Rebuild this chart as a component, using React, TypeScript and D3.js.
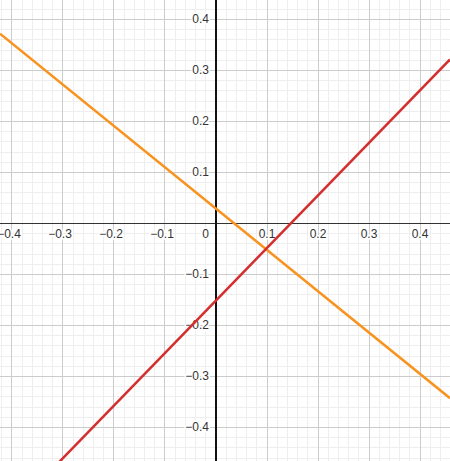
import * as d3 from "d3";
import { useEffect } from "react";

const width = 450;
const height = 461;

// visible window of the graph
const xDomain: [number, number] = [-0.4235, 0.4588];
const yDomain: [number, number] = [-0.4657, 0.4382];

const xTicks = [-0.4, -0.3, -0.2, -0.1, 0.1, 0.2, 0.3, 0.4];
const yTicks = [-0.4, -0.3, -0.2, -0.1, 0.1, 0.2, 0.3, 0.4];

// lines y = slope * x + intercept
const lineNames = ["orange", "red"];
const lineSlopes = [-0.81, 1.03];
const lineIntercepts = [0.029, -0.151];
const lineColors = ["#f8931f", "#d42f2f"];

const fmt = (v: number) => (v < 0 ? "\u2212" : "") + Math.abs(v).toFixed(1);

export default function App() {
  useEffect(() => {
    document.body.style.margin = "0";
  }, []);

  const x = d3.scaleLinear(xDomain, [0, width]);
  const y = d3.scaleLinear(yDomain, [height, 0]);

  const minor = d3.range(-30, 31).map((i) => i * 0.02);
  const major = d3.range(-5, 6).map((i) => i * 0.1);
  const inX = (v: number) => v >= xDomain[0] && v <= xDomain[1];
  const inY = (v: number) => v >= yDomain[0] && v <= yDomain[1];

  const label = {
    fontFamily: "Arial, 'Liberation Sans', sans-serif",
    fontSize: 12,
    fill: "#333",
    stroke: "#fff",
    strokeWidth: 3,
    paintOrder: "stroke" as const,
  };

  return (
    <svg width={width} height={height} style={{ display: "block", background: "#fff" }}>
      <g shapeRendering="crispEdges">
        {minor.filter(inX).map((v, i) => (
          <line key={"mx" + i} x1={x(v)} x2={x(v)} y1={0} y2={height} stroke="#eeeeee" />
        ))}
        {minor.filter(inY).map((v, i) => (
          <line key={"my" + i} y1={y(v)} y2={y(v)} x1={0} x2={width} stroke="#eeeeee" />
        ))}
        {major.filter(inX).map((v, i) => (
          <line key={"Mx" + i} x1={x(v)} x2={x(v)} y1={0} y2={height} stroke="#cccccc" />
        ))}
        {major.filter(inY).map((v, i) => (
          <line key={"My" + i} y1={y(v)} y2={y(v)} x1={0} x2={width} stroke="#cccccc" />
        ))}
        <line x1={0} x2={width} y1={y(0)} y2={y(0)} stroke="#333" strokeWidth={1.5} />
        <line x1={x(0)} x2={x(0)} y1={0} y2={height} stroke="#111" strokeWidth={1.5} />
      </g>
      <g style={label}>
        {xTicks.map((v) => (
          <text key={"xt" + v} x={x(v) - (v < 0 ? 3 : 0)} y={y(0) + 15} textAnchor="middle">
            {fmt(v)}
          </text>
        ))}
        {yTicks.map((v) => (
          <text key={"yt" + v} x={x(0) - 7} y={y(v) + 4} textAnchor="end">
            {fmt(v)}
          </text>
        ))}
        <text x={x(0) - 7} y={y(0) + 15} textAnchor="end">
          0
        </text>
      </g>
      {lineNames.map((name, i) => {
        const f = (v: number) => lineSlopes[i] * v + lineIntercepts[i];
        const path = d3
          .line<number>()
          .x((d) => x(d))
          .y((d) => y(f(d)))(xDomain);
        return (
          <path key={name} d={path ?? ""} fill="none" stroke={lineColors[i]} strokeWidth={2.5} />
        );
      })}
    </svg>
  );
}
